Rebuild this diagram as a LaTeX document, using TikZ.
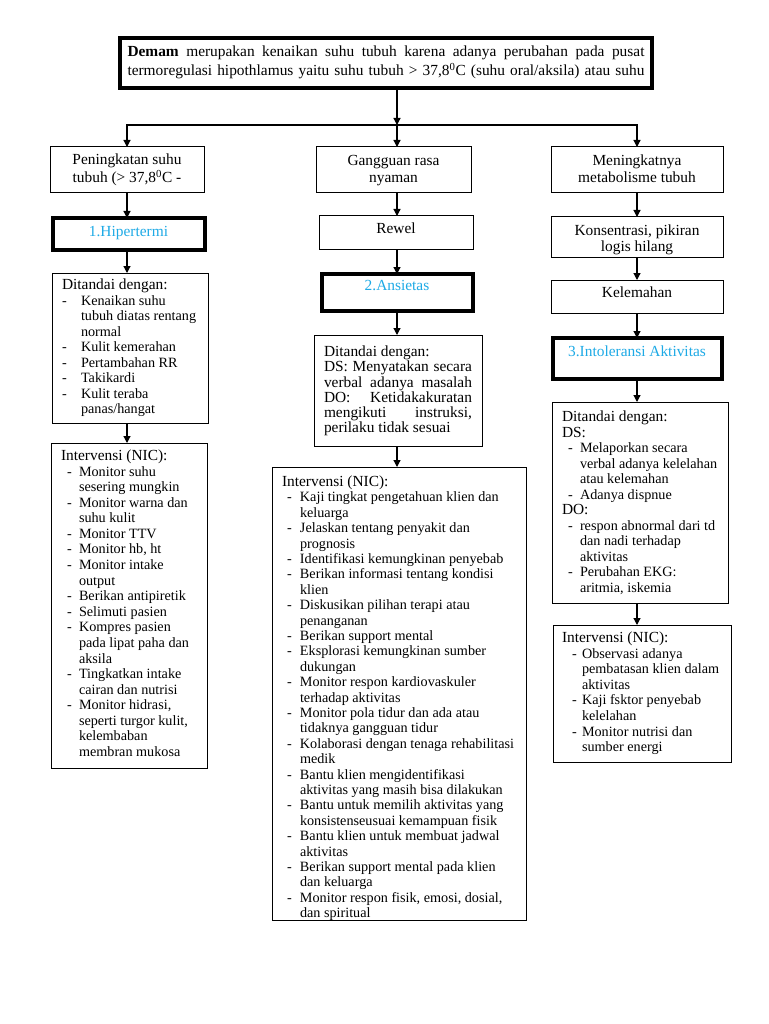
\documentclass[tikz,border=0pt]{standalone}
\usepackage{fontspec}
\setmainfont{Liberation Serif}
\usepackage{array}
\usetikzlibrary{arrows.meta}
\definecolor{diag}{RGB}{30,170,230}
\newlength\dashoff
\newcommand\hfont{\fontsize{15.4}{17}\selectfont}
\newcommand\topfont{\fontsize{15.4}{19.5}\selectfont}
\newcommand\hd[1]{\multicolumn{2}{@{}l@{}}{\fontsize{15.4}{15.5}\selectfont #1}}
\newcommand\D{\hspace*{\dashoff}-}
\newcommand\lst[3]{\setlength\dashoff{#1}\begin{tabular}{@{}p{#2}@{}l@{}}#3\end{tabular}}
\newcommand\J[1]{\makebox[148pt][s]{#1}}
\newcommand\bx[6][nbox]{\node[#1, minimum width={#5-#3}, minimum height={#6-#4}] (#2) at (#3,#4) {};}
\begin{document}
\begin{tikzpicture}[x=1pt,y=-1pt,
  nbox/.style={draw, line width=1pt, inner sep=0pt, outer sep=0pt, anchor=north west},
  tbox/.style={nbox, line width=3.6pt},
  arr/.style={line width=1.2pt, -{Triangle[length=7pt,width=7pt]}},
  txt/.style={inner sep=0pt, outer sep=0pt}]
\useasboundingbox[fill=white] (0,0) rectangle (768,1024);

% boxes
\bx[tbox]{top}{120}{38}{652}{88}
\bx{h1}{50}{147}{204}{193}
\bx[tbox]{hip}{53}{218}{205}{250}
\bx{dit1}{52}{273}{208}{423}
\bx{int1}{51}{443}{207}{768}
\bx{h2}{316}{147}{471}{193}
\bx{rewel}{319}{216}{473}{249}
\bx[tbox]{ans}{322}{274}{473}{311}
\bx{dit2}{314}{335}{482}{446}
\bx{int2}{272}{467}{526}{920}
\bx{h3}{551}{147}{723}{193}
\bx{kons}{551}{217}{723}{257}
\bx{kel}{551}{280}{723}{313}
\bx[tbox]{intol}{553}{338}{722}{379}
\bx{dit3}{552}{402}{728}{603}
\bx{int3}{553}{625}{731}{762}

% connectors
\coordinate (j) at (397,125);
\draw[arr] (top.south -| j) -- (j);
\draw[arr] (j) -| (h1.north);
\draw[arr] (j) -| (h3.north);
\draw[arr] (j) -- (j |- h2.north);
\draw[arr] (h1.south) -- (h1.south |- hip.north);
\draw[arr] (hip.south -| h1.south) -- (dit1.north -| h1.south);
\draw[arr] (dit1.south -| h1.south) -- (int1.north -| h1.south);
\draw[arr] (h2.south -| j) -- (rewel.north -| j);
\draw[arr] (rewel.south -| j) -- (ans.north -| j);
\draw[arr] (ans.south -| j) -- (dit2.north -| j);
\draw[arr] (dit2.south -| j) -- (int2.north -| j);
\draw[arr] (h3.south) -- (kons.north -| h3.south);
\draw[arr] (kons.south -| h3.south) -- (kel.north -| h3.south);
\draw[arr] (kel.south -| h3.south) -- (intol.north -| h3.south);
\draw[arr] (intol.south -| h3.south) -- (dit3.north -| h3.south);
\draw[arr] (dit3.south -| h3.south) -- (int3.north -| h3.south);

% top text
\node[txt, anchor=base west] (tt1) at (127.5,56.5) {\topfont\makebox[517pt][s]{\textbf{Demam} merupakan kenaikan suhu tubuh karena adanya perubahan pada pusat}};
\node[txt, anchor=base west] (tt2) at (127.5,76) {\topfont\makebox[517pt][s]{termoregulasi hipothlamus yaitu suhu tubuh > 37,8\textsuperscript{0}C (suhu oral/aksila) atau suhu}};

% headers
\node[txt, anchor=north, font=\hfont] (th1) at (127,165-11.9) {\begin{tabular}{@{}c@{}}Peningkatan suhu\\tubuh (> 37,8\textsuperscript{0}C -\end{tabular}};
\node[txt, anchor=north, font=\hfont] (th2) at (393.5,165.5-11.9) {\begin{tabular}{@{}c@{}}Gangguan rasa\\nyaman\end{tabular}};
\node[txt, anchor=north, font=\hfont] (th3) at (637,165.5-11.9) {\begin{tabular}{@{}c@{}}Meningkatnya\\metabolisme tubuh\end{tabular}};

% single-line boxes
\node[txt, anchor=base, font=\hfont, text=diag] (thip) at (128.5,236.5) {1.Hipertermi};
\node[txt, anchor=base, font=\hfont] (trew) at (396,233.5) {Rewel};
\node[txt, anchor=base, font=\hfont, text=diag] (tans) at (397,290.5) {2.Ansietas};
\node[txt, anchor=north, font=\fontsize{15.4}{16}\selectfont] (tkons) at (637,235.5-11.2) {\begin{tabular}{@{}c@{}}Konsentrasi, pikiran\\logis hilang\end{tabular}};
\node[txt, anchor=base, font=\hfont] (tkel) at (637,297.5) {Kelemahan};
\node[txt, anchor=base, font=\hfont, text=diag] (tintol) at (637,356.5) {3.Intoleransi Aktivitas};

% left lists
\node[txt, anchor=north west, font=\fontsize{14.2}{15.5}\selectfont] (tdit1) at (62,289.5-10.85) {\lst{0pt}{19pt}{%
\hd{Ditandai dengan:}\\
\D & Kenaikan suhu\\
 & tubuh diatas rentang\\
 & normal\\
\D & Kulit kemerahan\\
\D & Pertambahan RR\\
\D & Takikardi\\
\D & Kulit teraba\\
 & panas/hangat}};

\node[txt, anchor=north west, font=\fontsize{14.2}{15.58}\selectfont] (tint1) at (61,460.5-10.9) {\lst{6pt}{18pt}{%
\hd{Intervensi (NIC):}\\
\D & Monitor suhu\\
 & sesering mungkin\\
\D & Monitor warna dan\\
 & suhu kulit\\
\D & Monitor TTV\\
\D & Monitor hb, ht\\
\D & Monitor intake\\
 & output\\
\D & Berikan antipiretik\\
\D & Selimuti pasien\\
\D & Kompres pasien\\
 & pada lipat paha dan\\
 & aksila\\
\D & Tingkatkan intake\\
 & cairan dan nutrisi\\
\D & Monitor hidrasi,\\
 & seperti turgor kulit,\\
 & kelembaban\\
 & membran mukosa}};

% middle lists
\node[txt, anchor=north west, font=\fontsize{15.4}{15.1}\selectfont] (tdit2) at (324,356.5-10.57) {\begin{tabular}{@{}l@{}}Ditandai dengan:\\
\J{DS: Menyatakan secara}\\
\J{verbal adanya masalah}\\
\J{DO: Ketidakakuratan}\\
\J{mengikuti instruksi,}\\
perilaku tidak sesuai\end{tabular}};

\node[txt, anchor=north west, font=\fontsize{14.2}{15.4}\selectfont] (tint2) at (282,486.5-10.78) {\lst{5pt}{18pt}{%
\hd{Intervensi (NIC):}\\
\D & Kaji tingkat pengetahuan klien dan\\
 & keluarga\\
\D & Jelaskan tentang penyakit dan\\
 & prognosis\\
\D & Identifikasi kemungkinan penyebab\\
\D & Berikan informasi tentang kondisi\\
 & klien\\
\D & Diskusikan pilihan terapi atau\\
 & penanganan\\
\D & Berikan support mental\\
\D & Eksplorasi kemungkinan sumber\\
 & dukungan\\
\D & Monitor respon kardiovaskuler\\
 & terhadap aktivitas\\
\D & Monitor pola tidur dan ada atau\\
 & tidaknya gangguan tidur\\
\D & Kolaborasi dengan tenaga rehabilitasi\\
 & medik\\
\D & Bantu klien mengidentifikasi\\
 & aktivitas yang masih bisa dilakukan\\
\D & Bantu untuk memilih aktivitas yang\\
 & konsistenseusuai kemampuan fisik\\
\D & Bantu klien untuk membuat jadwal\\
 & aktivitas\\
\D & Berikan support mental pada klien\\
 & dan keluarga\\
\D & Monitor respon fisik, emosi, dosial,\\
 & dan spiritual}};

% right lists
\node[txt, anchor=north west, font=\fontsize{14.2}{15.5}\selectfont] (tdit3) at (562,421.5-10.85) {\lst{6pt}{18pt}{%
\hd{Ditandai dengan:}\\
\hd{DS:}\\
\D & Melaporkan secara\\
 & verbal adanya kelelahan\\
 & atau kelemahan\\
\D & Adanya dispnue\\
\hd{DO:}\\
\D & respon abnormal dari td\\
 & dan nadi terhadap\\
 & aktivitas\\
\D & Perubahan EKG:\\
 & aritmia, iskemia}};

\node[txt, anchor=north west, font=\fontsize{14.2}{15.6}\selectfont] (tint3) at (562,642.5-10.92) {\lst{10pt}{20pt}{%
\hd{Intervensi (NIC):}\\
\D & Observasi adanya\\
 & pembatasan klien dalam\\
 & aktivitas\\
\D & Kaji fsktor penyebab\\
 & kelelahan\\
\D & Monitor nutrisi dan\\
 & sumber energi}};
\end{tikzpicture}
\end{document}
